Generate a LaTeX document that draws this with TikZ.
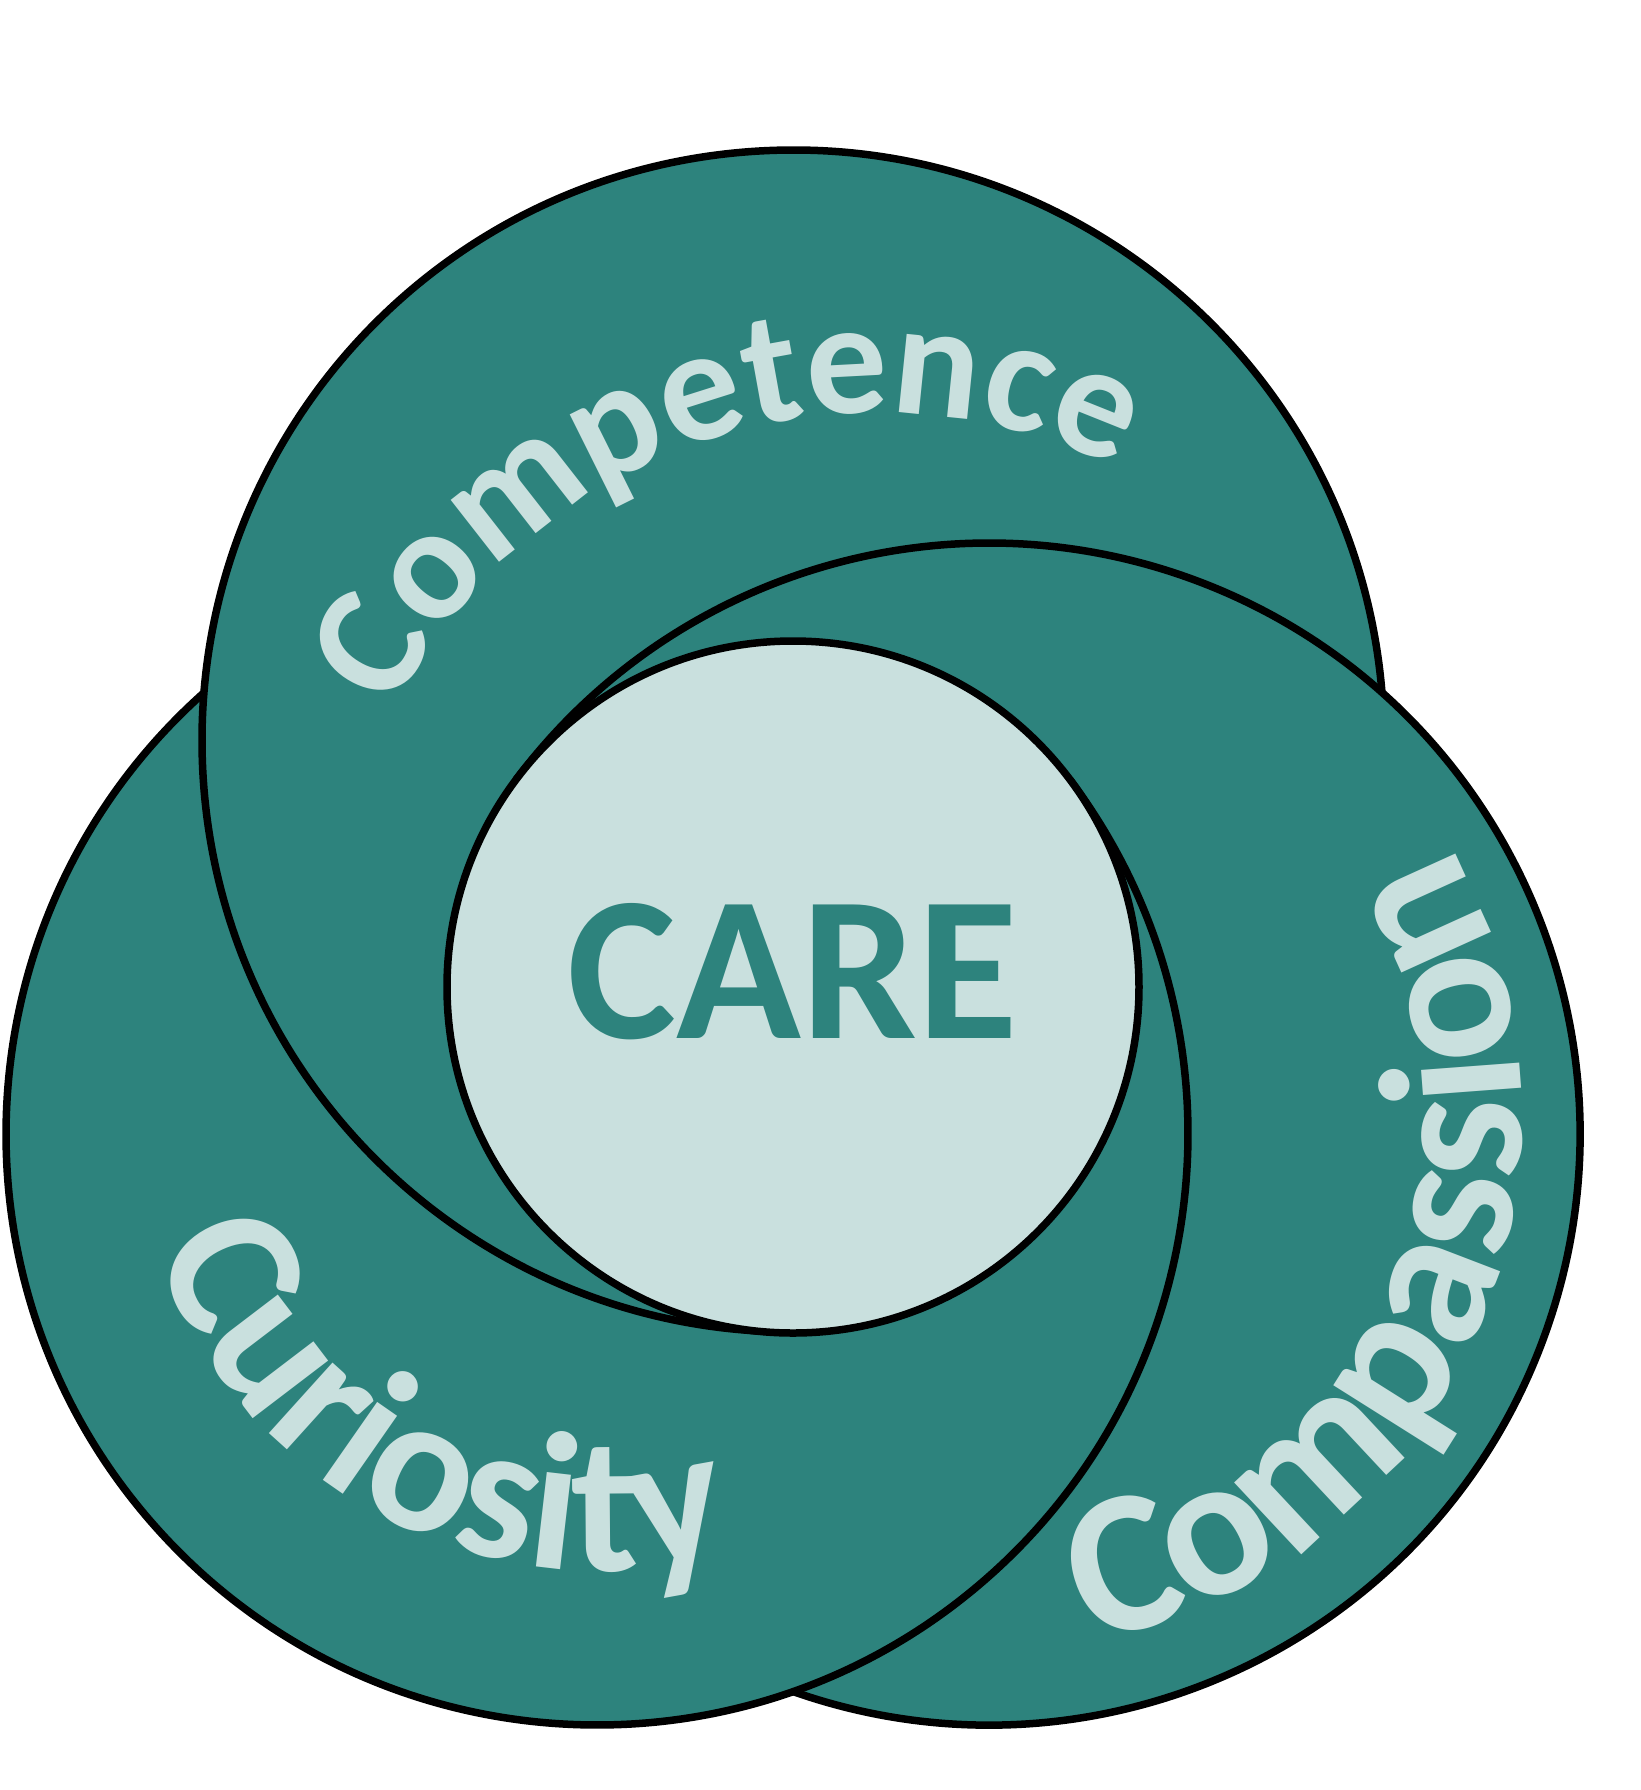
\documentclass[tikz,border=0pt]{standalone}
\usepackage{fontspec}
\setmainfont{Carlito}
\usetikzlibrary{decorations.text}
\definecolor{tealfill}{RGB}{45,131,125}
\definecolor{palefill}{RGB}{201,224,222}
\newcommand\cmpfont{\fontsize{81}{81}\selectfont\bfseries\color{palefill}}
\newcommand\curfont{\fontsize{98}{98}\selectfont\bfseries\color{palefill}}
\newcommand\cpsfont{\fontsize{101.5}{101.5}\selectfont\bfseries\color{palefill}}
\begin{document}
\begin{tikzpicture}[x=0.5pt,y=0.5pt,
  ring/.style={draw=black,line width=3.75pt},
  curvetext/.style={decorate,decoration={text along path,text align=center,text={#1}}}]
\useasboundingbox (0,0) rectangle (1640,-1790);
% teal discs
\fill[tealfill] (793,-741) circle[radius=591];
\fill[tealfill] (597,-1134) circle[radius=591];
\fill[tealfill] (989,-1134) circle[radius=591];
% visible outlines
\draw[ring] (793,-741) ++(4.70:591) arc[start angle=4.70,end angle=270,radius=591];
\draw[ring] (597,-1134) ++(131.69:591) arc[start angle=131.69,end angle=396.87,radius=591];
\draw[ring] (989,-1134) ++(-109.37:591) arc[start angle=-109.37,end angle=143.13,radius=591];
% centre disc
\draw[ring,fill=palefill] (793,-987) circle[radius=346];
\node[anchor=base,text=tealfill,font=\fontsize{103}{103}\selectfont\bfseries] (care) at (793,-1038.5) {CARE};
% curved labels
\path[curvetext={|\cmpfont|Competence}] (878,-957) ++(178.5:544) arc[start angle=178.5,end angle=38.5,radius=544];
\path[curvetext={|\curfont|Curiosity}] (602,-1101) ++(-187.9:470) arc[start angle=-187.9,end angle=-47.9,radius=470];
\path[curvetext={|\cpsfont|Compassion}] (986,-1116) ++(-104.3:536) arc[start angle=-104.3,end angle=55.7,radius=536];
\end{tikzpicture}
\end{document}
